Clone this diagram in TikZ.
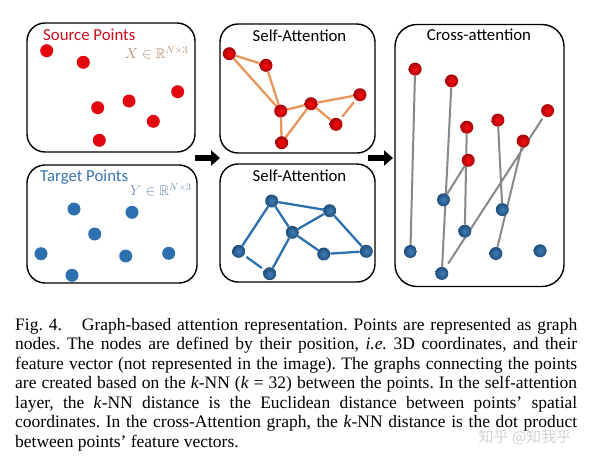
\documentclass[tikz,border=0pt]{standalone}
\usepackage{amssymb}
\usepackage{fontspec}
\newfontfamily\calfont{Carlito}
\newfontfamily\capfont{Liberation Serif}
\newfontfamily\cjkfont{Noto Sans CJK SC}
\usetikzlibrary{arrows.meta,backgrounds}
\definecolor{ptred}{RGB}{228,6,14}
\definecolor{ptblue}{RGB}{44,112,176}
\definecolor{ttred}{RGB}{200,14,28}
\definecolor{ttblue}{RGB}{58,118,178}
\definecolor{xlab}{RGB}{176,136,104}
\definecolor{ylab}{RGB}{112,142,186}
\definecolor{edgeor}{RGB}{232,150,90}
\definecolor{edgegr}{RGB}{136,136,136}
\tikzset{
  panel/.style={draw, line width=1.4pt, rounded corners=18pt, inner sep=0pt},
  ttl/.style={font=\calfont\fontsize{16.8}{18}\selectfont, inner sep=0pt},
  mlab/.style={font=\fontsize{14}{16}\selectfont, inner sep=0pt, anchor=west},
  rpt/.style={circle, fill=ptred, minimum size=13pt, inner sep=0pt},
  bpt/.style={circle, fill=ptblue, minimum size=13pt, inner sep=0pt},
  rball/.style={circle, minimum size=13pt, inner sep=0pt, inner color=red!95!white, outer color=ptred!72!black},
  bball/.style={circle, minimum size=13pt, inner sep=0pt, inner color=ptblue!90!white, outer color=ptblue!70!black},
  oedge/.style={edgeor, line width=2.3pt, shorten >=3pt, shorten <=3pt},
  bedge/.style={ptblue, line width=2.3pt, shorten >=3pt, shorten <=3pt},
  xedge/.style={edgegr, line width=2pt, shorten >=5pt, shorten <=3pt}
}
\begin{document}
\begin{tikzpicture}[x=1pt, y=-1pt, >={Triangle[length=9pt,width=15pt]}, line join=round, line cap=round]
\useasboundingbox (0,0) rectangle (593,464);
% panels
\node[panel, minimum width=168pt, minimum height=129pt] (src) at (111,87.5) {};
\node[panel, minimum width=170pt, minimum height=118pt] (tgt) at (112,224) {};
\node[panel, minimum width=155pt, minimum height=129pt] (saA) at (297.5,88.5) {};
\node[panel, minimum width=155pt, minimum height=118pt] (saB) at (297.5,223) {};
\node[panel, minimum width=169pt, minimum height=262pt, rounded corners=22pt] (cross) at (479.5,155.5) {};

\node[ttl, ttred, anchor=west] (srcT) at (43,35) {Source Points};
\node[ttl, ttblue, anchor=west] (tgtT) at (40,177) {Target Points};
\node[ttl] (saAT) at (299.5,36) {Self-Attention};
\node[ttl] (saBT) at (299.5,176) {Self-Attention};
\node[ttl] (crossT) at (479,35) {Cross-attention};
\node[mlab, xlab] (srcM) at (125,53) {$X\in\mathbb{R}^{N\times 3}$};
\node[mlab, ylab] (tgtM) at (130,190) {$Y\in\mathbb{R}^{N\times 3}$};

% source / target points
\node[rpt] (s1) at (46.7,50.7) {};  \node[rpt] (s2) at (83.3,62.3) {};
\node[rpt] (s3) at (177.7,91.7) {}; \node[rpt] (s4) at (129,101) {};
\node[rpt] (s5) at (97.7,107.7) {}; \node[rpt] (s6) at (153.3,121.3) {};
\node[rpt] (s7) at (99.3,140.3) {};
\node[bpt] (t1) at (74,209) {};     \node[bpt] (t2) at (132,212.3) {};
\node[bpt] (t3) at (94.7,234) {};   \node[bpt] (t4) at (41,253.7) {};
\node[bpt] (t5) at (125.7,256) {};  \node[bpt] (t6) at (168.7,253.3) {};
\node[bpt] (t7) at (72,275.3) {};

% self-attention, source
\node[rball] (ra) at (229.3,53.7) {}; \node[rball] (rb) at (266,65.3) {};
\node[rball] (rc) at (280.7,111) {};  \node[rball] (rd) at (311,103.7) {};
\node[rball] (re) at (360,94.7) {};   \node[rball] (rf) at (336,124.3) {};
\node[rball] (rg) at (281.7,142.7) {};
% self-attention, target
\node[bball] (ba) at (271.7,201) {};  \node[bball] (bb) at (329.7,210.7) {};
\node[bball] (bc) at (292.3,232.3) {};\node[bball] (bd) at (238.7,251.3) {};
\node[bball] (be) at (323.7,254) {};  \node[bball] (bf) at (366.3,251.3) {};
\node[bball] (bg) at (269.7,273.7) {};

% cross-attention
\node[rball] (x1) at (415.1,69.1) {};  \node[rball] (x2) at (451.6,80.9) {};
\node[rball] (x3) at (547.6,110.6) {}; \node[rball] (x4) at (497.9,120.1) {};
\node[rball] (x5) at (466.8,127.2) {}; \node[rball] (x6) at (523.2,141) {};
\node[rball] (x7) at (468.2,160.3) {};
\node[bball] (y1) at (443.5,199.8) {}; \node[bball] (y2) at (502.3,209.6) {};
\node[bball] (y3) at (464.8,231.2) {}; \node[bball] (y4) at (410.4,251.5) {};
\node[bball] (y5) at (495.9,253.5) {}; \node[bball] (y6) at (540.1,250.8) {};
\node[bball] (y7) at (441.8,273.4) {};

\begin{scope}[on background layer]
\draw[oedge] (ra)--(rb) (ra)--(rc) (rb)--(rc) (rc)--(rd) (rc)--(rg)
  (rg)--(rd) (rd)--(re) (rd)--(rf) (rf)--(re);
\draw[bedge] (ba)--(bb) (ba)--(bd) (ba)--(bc) (bc)--(bb) (bb)--(bf)
  (bc)--(be) (be)--(bf) (bc)--(bg) (bd)--(bg);
\draw[xedge] (x1)--(y4) (x2)--(y7) (x5)--(y3) (x7)--(y1) (x4)--(y2)
  (x6)--(y5) (x3)--(y7);
\end{scope}

% arrows between stages
\coordinate (a1s) at (195,158); \coordinate (a1e) at (220,158);
\coordinate (a2s) at (368,158); \coordinate (a2e) at (393,158);
\draw[->, line width=6.5pt, line cap=butt] (a1s)--(a1e);
\draw[->, line width=6.5pt, line cap=butt] (a2s)--(a2e);

\node[anchor=north west, text width=562pt, align=justify, inner sep=0pt,
  font=\capfont\fontsize{17.5}{19.5}\selectfont\frenchspacing] (cap) at (15,318)
  {Fig. 4.\hspace{20pt}Graph-based attention representation. Points are represented as graph\linebreak
  nodes. The nodes are defined by their position, \textit{i.e.} 3D coordinates, and their\linebreak
  feature vector (not represented in the image). The graphs connecting the points\linebreak
  are created based on the \textit{k}-NN (\textit{k}~=~32) between the points. In the self-attention\linebreak
  layer, the \textit{k}-NN distance is the Euclidean distance between points’ spatial\linebreak
  coordinates. In the cross-Attention graph, the \textit{k}-NN distance is the dot product\linebreak
  between points’ feature vectors.};
\node[text=gray!35, font=\cjkfont\fontsize{15}{16}\selectfont, inner sep=0pt] (wm) at (525,437) {知乎 @知我乎};
\end{tikzpicture}
\end{document}
